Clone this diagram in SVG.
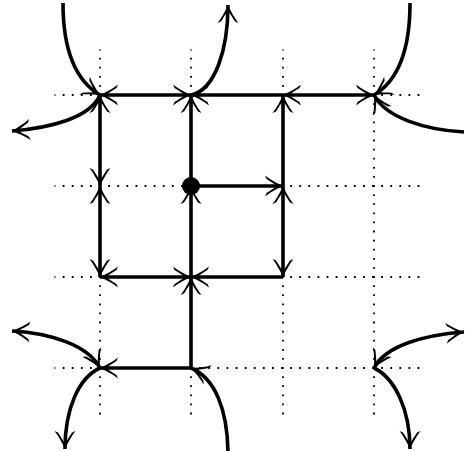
<svg xmlns="http://www.w3.org/2000/svg" width="474" height="451" viewBox="0 0 474 451">
<style>
.grid{fill:none;stroke:#000;stroke-width:1.8;stroke-dasharray:1.8 7.3}
.e{fill:none;stroke:#000;stroke-width:3.6;marker-end:url(#ah)}
.b{marker-start:url(#ah)}
</style>
<defs>
<marker id="ah" markerUnits="userSpaceOnUse" orient="auto-start-reverse" viewBox="-20 -11 22 22" refX="0" refY="0" markerWidth="22" markerHeight="22" overflow="visible">
<path d="M0,0 C-6,-2.8 -13,-6.5 -18,-10.5 L-16.5,-7 C-12,-4 -8,-1.8 -6,0 C-8,1.8 -12,4 -16.5,7 L-18,10.5 C-13,6.5 -6,2.8 0,0 Z" fill="#000"/>
</marker>
</defs>
<g id="grid">
<path class="grid" d="M54.5,95 H420 M54.5,186 H420 M54.5,277 H420 M54.5,368 H420" stroke-dashoffset="0.9"/>
<path class="grid" d="M100,49.5 V415 M191,49.5 V415 M283,49.5 V415 M374,49.5 V415" stroke-dashoffset="0.9"/>
</g>
<g id="connectors">
<path class="e b" d="M100,95 H191"/>
<path class="e" d="M283,95 H191"/>
<path class="e b" d="M283,95 H374"/>
<path class="e b" d="M100,95 V186"/>
<path class="e b" d="M100,186 V277"/>
<path class="e" d="M191,186 V95"/>
<path class="e" d="M191,277 V186"/>
<path class="e" d="M191,368 V277"/>
<path class="e" d="M191,186 H283"/>
<path class="e" d="M283,186 V95"/>
<path class="e b" d="M283,186 V277"/>
<path class="e b" d="M100,277 H191"/>
<path class="e" d="M283,277 H191"/>
<path class="e" d="M191,368 H100"/>
<path class="e" d="M63,3 C63,55 78,82 100,95"/>
<path class="e" d="M100,95 C90,118 50,128 12,131"/>
<path class="e" d="M191,95 C215,90 228,50 228,5"/>
<path class="e" d="M410,3 C410,55 396,82 374,95"/>
<path class="e" d="M464,132 C426,130 386,118 374,95"/>
<path class="e b" d="M100,368 C88,345 50,333 12,331"/>
<path class="e" d="M100,368 C78,378 65,410 65,449"/>
<path class="e" d="M228,455 C228,410 215,378 191,368"/>
<path class="e b" d="M374,368 C386,345 425,335 464,332"/>
<path class="e" d="M374,368 C395,378 410,410 410,449"/>
</g>
<g id="node-center">
<circle cx="191" cy="186" r="9" fill="#000"/>
</g>
</svg>
